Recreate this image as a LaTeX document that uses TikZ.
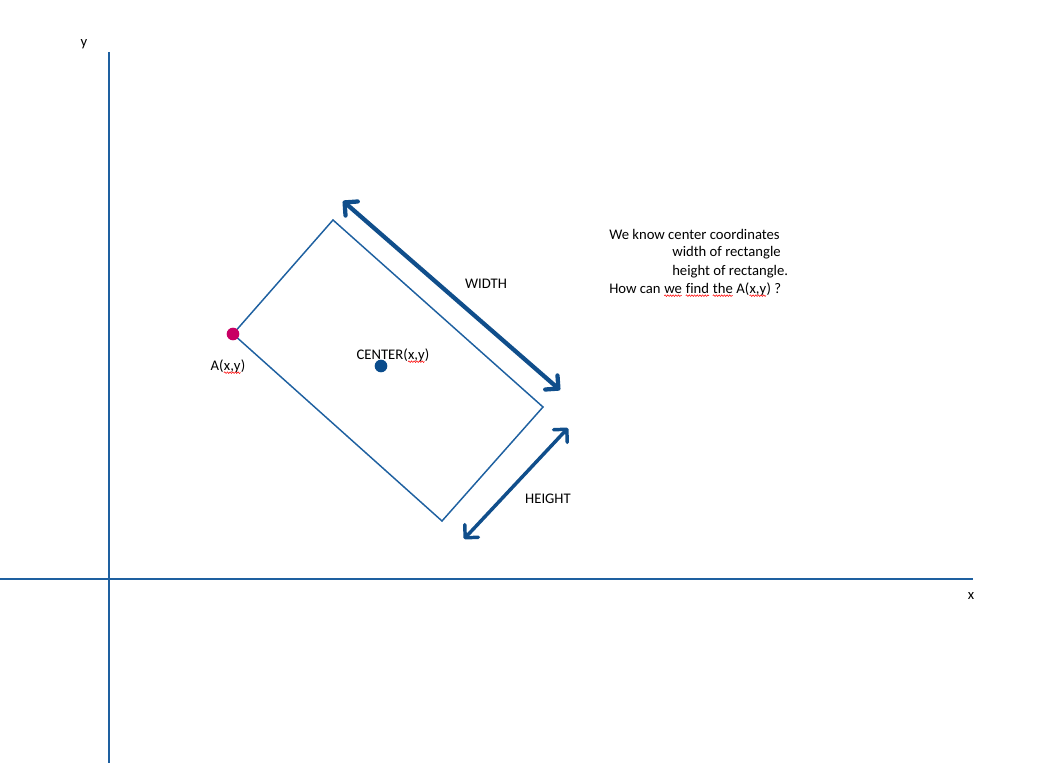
\documentclass[tikz,border=0pt]{standalone}
\usepackage{fontspec}
\setmainfont[Ligatures=NoCommon]{Carlito}
\usetikzlibrary{arrows.meta,decorations.pathmorphing}
\definecolor{axisblue}{RGB}{30,96,160}
\definecolor{arrowblue}{RGB}{16,78,139}
\definecolor{dotblue}{RGB}{10,76,140}
\definecolor{dotmag}{RGB}{200,0,100}
\newcommand\sqw[1]{\tikz[baseline=(w.base),x=1pt,y=1pt]{\node[inner sep=0pt,outer sep=0pt](w){#1};\draw[red,line width=0.4pt,decorate,decoration={snake,amplitude=0.6pt,segment length=2pt}]([yshift=-2pt]w.base west)--([yshift=-2pt]w.base east);}}
\begin{document}
\begin{tikzpicture}[x=0.75pt,y=-0.75pt,
  font=\fontsize{11}{13.5}\selectfont,
  axis/.style={draw=axisblue,line width=1.5pt},
  rect/.style={draw=axisblue,line width=1.1pt,line join=miter},
  dimarrow/.style={draw=arrowblue,line cap=round,line join=round,
    {Straight Barb[length=7pt,width=14pt,line cap=round,line join=round]}-{Straight Barb[length=7pt,width=14pt,line cap=round,line join=round]}},
  lbl/.style={inner sep=0pt,anchor=base},
  txt/.style={inner sep=0pt,anchor=base west},
  dotstyle/.style={circle,inner sep=0pt,minimum size=9.5pt}]
\useasboundingbox (0,0) rectangle (1053,763);
% axes
\coordinate (yt) at (109,52);
\coordinate (yb) at (109,763);
\coordinate (xl) at (0,579);
\coordinate (xr) at (973,579);
\draw[axis] (yt) -- (yb);
\draw[axis] (xl) -- (xr);
\node[lbl] (ylab) at (84,47) {y};
\node[lbl] (xlab) at (971,599) {x};
% rectangle
\coordinate (T) at (333,220);
\coordinate (R) at (543,407);
\coordinate (B) at (442,521);
\coordinate (L) at (233,334);
\draw[rect] (L) -- (T) -- (R) -- (B) -- cycle;
% points
\node[dotstyle,fill=dotmag] (A) at (233,334) {};
\node[dotstyle,fill=dotblue] (C) at (381,366) {};
\node[lbl] (Alab) at (228,370) {A(\sqw{x,y})};
\node[lbl] (Clab) at (393,359) {CENTER(\sqw{x,y})};
% dimension arrows
\coordinate (w1) at (343,201);
\coordinate (w2) at (560,390);
\draw[dimarrow,line width=3.2pt] (w1) -- (w2);
\coordinate (h1) at (568,428);
\coordinate (h2) at (464,539);
\draw[dimarrow,line width=2.6pt] (h1) -- (h2);
\node[lbl] (wlab) at (486,288) {WIDTH};
\node[lbl] (hlab) at (548,503) {HEIGHT};
% text block
\node[txt] (t1) at (609,239) {We know center coordinates};
\node[txt] (t2) at (672,257) {width of rectangle};
\node[txt] (t3) at (672,275) {height of rectangle.};
\node[txt] (t4) at (609,293) {How can \sqw{we} \sqw{find} \sqw{the} A(\sqw{x,y}) ?};
\end{tikzpicture}
\end{document}
